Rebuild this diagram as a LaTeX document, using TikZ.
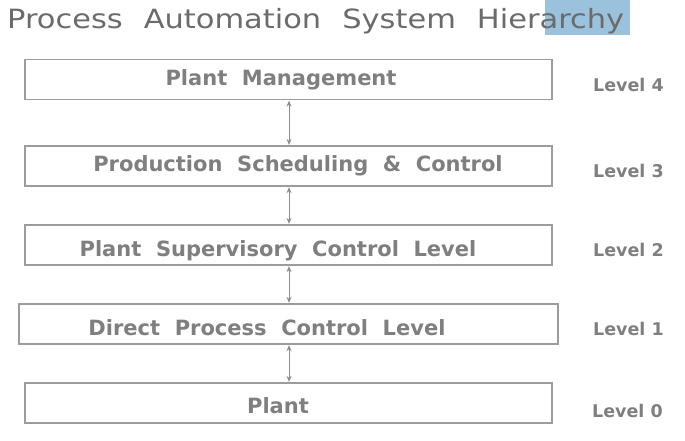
\documentclass[tikz,border=0pt]{standalone}
\usepackage{fontspec}
\setmainfont{DejaVu Sans}
\newfontfamily\titlefont[FakeStretch=1.15]{DejaVu Sans}
\usetikzlibrary{arrows.meta}
\definecolor{txtgray}{HTML}{7F7F7F}
\definecolor{titlegray}{HTML}{6B6B6B}
\definecolor{boxgray}{HTML}{9C9C9C}
\definecolor{hilite}{HTML}{9BC2DC}
\tikzset{
  lvlbox/.style={draw=boxgray, line width=1.3pt, fill=white, inner sep=0pt},
  boxtext/.style={text=txtgray, font=\fontsize{21}{24}\selectfont\bfseries, inner sep=0pt, anchor=base},
  lvltext/.style={text=txtgray, font=\fontsize{17.5}{20}\selectfont\bfseries, inner sep=0pt, anchor=base west},
  link/.style={draw=boxgray!90!black, line width=1pt, {Stealth[length=6pt,width=5pt]}-{Stealth[length=6pt,width=5pt]}, shorten <=0.5pt, shorten >=0.5pt}
}
\begin{document}
\begin{tikzpicture}[x=1pt,y=-1pt]
\useasboundingbox (0,0) rectangle (685,440);
\fill[hilite] (545,0) rectangle (630,35);
\node[text=titlegray, font=\titlefont\fontsize{26.5}{30}\selectfont, anchor=base west, inner sep=0pt] (title) at (7,28) {Process\hspace{21pt}Automation\hspace{21pt}System\hspace{21pt}Hierarchy};

\coordinate (ax) at (289,0);
\node[lvlbox, minimum width=527pt, minimum height=40pt] (b4) at (288.5,79.5) {};
\node[lvlbox, minimum width=527pt, minimum height=40pt] (b3) at (288.5,166) {};
\node[lvlbox, minimum width=527pt, minimum height=40pt] (b2) at (288.5,245) {};
\node[lvlbox, minimum width=539pt, minimum height=40pt] (b1) at (288.5,324) {};
\node[lvlbox, minimum width=527pt, minimum height=40pt] (b0) at (288.5,403) {};

\node[boxtext] (t4) at (281,85) {Plant\ \ Management};
\node[boxtext] (t3) at (298,171) {Production\ \ Scheduling\ \ \&\ \ Control};
\node[boxtext] (t2) at (278,256) {Plant\ \ Supervisory\ \ Control\ \ Level};
\node[boxtext] (t1) at (267,335) {Direct\ \ Process\ \ Control\ \ Level};
\node[boxtext] (t0) at (278,413) {Plant};

\node[lvltext] (l4) at (593,91) {Level 4};
\node[lvltext] (l3) at (593,177) {Level 3};
\node[lvltext] (l2) at (593,256) {Level 2};
\node[lvltext] (l1) at (593,335) {Level 1};
\node[lvltext] (l0) at (592,417) {Level 0};

\draw[link] (b4.south -| ax) -- (b3.north -| ax);
\draw[link] (b3.south -| ax) -- (b2.north -| ax);
\draw[link] (b2.south -| ax) -- (b1.north -| ax);
\draw[link] (b1.south -| ax) -- (b0.north -| ax);
\end{tikzpicture}
\end{document}
